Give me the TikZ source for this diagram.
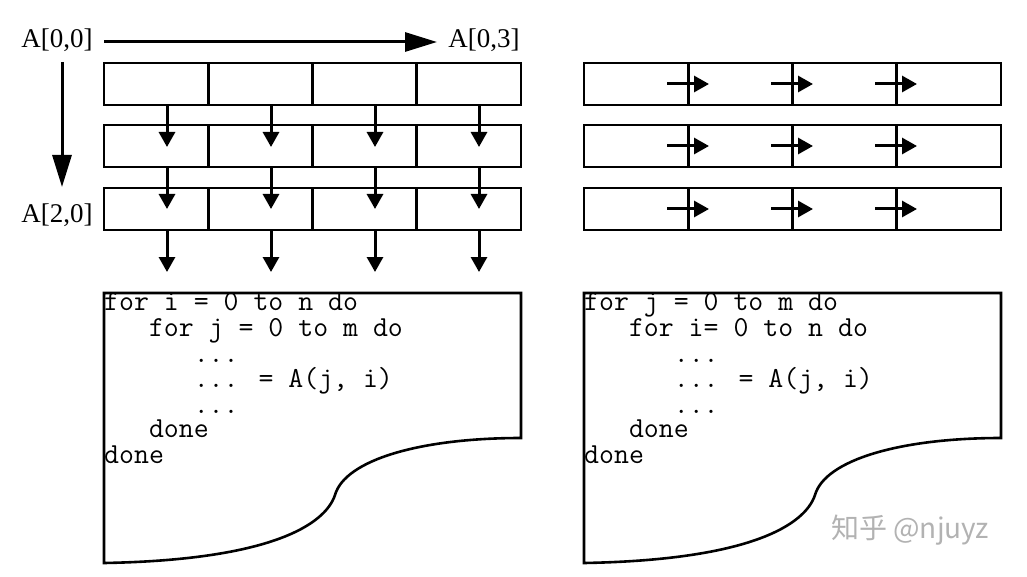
\documentclass[tikz,border=0pt]{standalone}
\usepackage{fontspec}
\setmainfont{Liberation Serif}
\newfontfamily\cjk{Noto Sans CJK SC}
\usetikzlibrary{arrows.meta}
\tikzset{
  box/.style={line width=2.6pt},
  arr/.style={line width=3pt,-{Triangle[length=15pt,width=16pt]}},
  bigarr/.style={line width=3pt,-{Triangle[length=32pt,width=19pt]}},
  code/.style={anchor=base west,inner sep=0pt,font=\ttfamily\fontsize{29}{29}\selectfont},
  lab/.style={inner sep=0pt,font=\fontsize{27}{27}\selectfont},
}
\begin{document}
\begin{tikzpicture}[x=1pt,y=-1pt]
\useasboundingbox (0,0) rectangle (1027,577);
% labels
\node[lab] (a00) at (57,40) {A[0,0]};
\node[lab] (a03) at (484,40) {A[0,3]};
\node[lab] (a20) at (57,215) {A[2,0]};
\coordinate (h1) at (104,42); \coordinate (h2) at (437,42);
\coordinate (v1) at (62,62); \coordinate (v2) at (62,187);
\draw[bigarr] (h1) -- (h2);
\draw[bigarr] (v1) -- (v2);
% grids
\foreach \ox in {104,584}{
  \foreach \y in {63,125,188}{
    \draw[box] (\ox,\y) rectangle ++(417,42);
    \foreach \i in {1,2,3} \draw[box] (\ox+104.25*\i,\y) -- ++(0,42);
  }
}
% down arrows (left)
\foreach \x in {167,271,375,479}{
  \foreach \y in {105,167,230}{
    \coordinate (s) at (\x,\y); \coordinate (e) at (\x,\y+42);
    \draw[arr] (s) -- (e);
  }
}
% right arrows
\foreach \x in {667,771,875}{
  \foreach \y in {84,146,209}{
    \coordinate (s) at (\x,\y); \coordinate (e) at (\x+42,\y);
    \draw[arr] (s) -- (e);
  }
}
% code pages
\foreach \ox in {0,480}{
  \draw[box,line join=miter] (104+\ox,438) -- (104+\ox,293) -- (521+\ox,293) -- (521+\ox,438)
    .. controls (420+\ox,438) and (345+\ox,460) .. (335+\ox,495)
    .. controls (325+\ox,525) and (270+\ox,560) .. (104+\ox,563) -- cycle;
}
\node[code] (l1) at (104,310) {for i = 0 to n do};
\node[code] (l2) at (104,336) {\ \ \ for j = 0 to m do};
\node[code] (l3) at (104,362) {\ \ \ \ \ \ ...};
\node[code] (l4) at (104,387) {\ \ \ \ \ \ ... = A(j, i)};
\node[code] (l5) at (104,413) {\ \ \ \ \ \ ...};
\node[code] (l6) at (104,437) {\ \ \ done};
\node[code] (l7) at (104,463) {done};
\node[code] (r1) at (584,310) {for j = 0 to m do};
\node[code] (r2) at (584,336) {\ \ \ for i= 0 to n do};
\node[code] (r3) at (584,362) {\ \ \ \ \ \ ...};
\node[code] (r4) at (584,387) {\ \ \ \ \ \ ... = A(j, i)};
\node[code] (r5) at (584,413) {\ \ \ \ \ \ ...};
\node[code] (r6) at (584,437) {\ \ \ done};
\node[code] (r7) at (584,463) {done};
\node[inner sep=0pt,text=black!30,font=\cjk\fontsize{28}{28}\selectfont] (wm) at (910,530) {知乎 @njuyz};
\end{tikzpicture}
\end{document}
